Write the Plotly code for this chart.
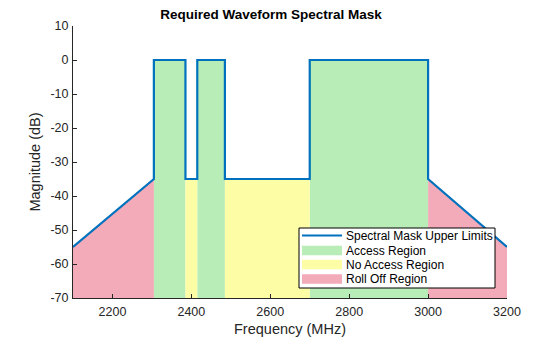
import plotly.graph_objects as go

# ---- data ----
mask_freq = [2100, 2305, 2305, 2385, 2385, 2415, 2415, 2485, 2485, 2700, 2700, 3000, 3000, 3200]
mask_db = [-55, -35, 0, 0, -35, -35, 0, 0, -35, -35, 0, 0, -35, -55]

access_bands = [(2305, 2385), (2415, 2485), (2700, 3000)]
access_level = 0
noaccess_bands = [(2385, 2415), (2485, 2700)]
noaccess_level = -35
rolloff_freq = [(2100, 2305), (3000, 3200)]
rolloff_db = [(-55, -35), (-35, -55)]
floor_db = -70

x_ticks = [2200, 2400, 2600, 2800, 3000, 3200]
y_ticks = [10, 0, -10, -20, -30, -40, -50, -60, -70]

legend_labels = ["Spectral Mask Upper Limits", "Access Region", "No Access Region", "Roll Off Region"]


def band_polys(bands, top):
    xs, ys = [], []
    for a, b in bands:
        xs += [a, a, b, b, a, None]
        ys += [floor_db, top, top, floor_db, floor_db, None]
    return xs, ys


ax_x, ax_y = band_polys(access_bands, access_level)
na_x, na_y = band_polys(noaccess_bands, noaccess_level)
ro_x, ro_y = [], []
for (a, b), (ya, yb) in zip(rolloff_freq, rolloff_db):
    ro_x += [a, a, b, b, a, None]
    ro_y += [floor_db, ya, yb, floor_db, floor_db, None]

GREEN = "#B8EDB8"
YELLOW = "#FDFDA6"
PINK = "#F3AAB9"
BLUE = "#0072BD"
FONT = "Liberation Sans, Arial, sans-serif"
TXT = "#262626"

W, H = 560, 337
L, R, T, B = 73, 507, 26, 298  # plot area in pixels


def px(x):
    return (x - L) / (R - L)


def py(y):
    return (B - y) / (B - T)


fig = go.Figure()
fig.add_trace(go.Scatter(x=ax_x, y=ax_y, fill="toself", fillcolor=GREEN, mode="lines",
                         line=dict(width=0, color=GREEN), name=legend_labels[1],
                         hoverinfo="skip", showlegend=False))
fig.add_trace(go.Scatter(x=na_x, y=na_y, fill="toself", fillcolor=YELLOW, mode="lines",
                         line=dict(width=0, color=YELLOW), name=legend_labels[2],
                         hoverinfo="skip", showlegend=False))
fig.add_trace(go.Scatter(x=ro_x, y=ro_y, fill="toself", fillcolor=PINK, mode="lines",
                         line=dict(width=0, color=PINK), name=legend_labels[3],
                         hoverinfo="skip", showlegend=False))
fig.add_trace(go.Scatter(x=mask_freq, y=mask_db, mode="lines",
                         line=dict(color=BLUE, width=2.2), name=legend_labels[0],
                         showlegend=False))

# ---- legend drawn as shapes + text (MATLAB-style compact legend) ----
shapes = [dict(type="rect", xref="paper", yref="paper", x0=px(299), x1=px(495),
               y0=py(288), y1=py(228), fillcolor="white", line=dict(color="black", width=1),
               layer="above")]
row_y = [235.5, 250.5, 264.5, 279]
shapes.append(dict(type="line", xref="paper", yref="paper", x0=px(302), x1=px(342),
                   y0=py(row_y[0]), y1=py(row_y[0]), line=dict(color=BLUE, width=2.2),
                   layer="above"))
for cy, col in zip(row_y[1:], [GREEN, YELLOW, PINK]):
    shapes.append(dict(type="rect", xref="paper", yref="paper", x0=px(302), x1=px(342),
                       y0=py(cy + 4.7), y1=py(cy - 4.7), fillcolor=col,
                       line=dict(width=0), layer="above"))
annotations = []
for cy, lab in zip(row_y, legend_labels):
    annotations.append(dict(text=lab, xref="paper", yref="paper", x=px(344), y=py(cy),
                            xanchor="left", yanchor="middle", showarrow=False,
                            font=dict(family=FONT, size=12, color="black")))

axis_common = dict(showline=True, linecolor=TXT, linewidth=1, ticks="inside", ticklen=4,
                   tickcolor=TXT, tickfont=dict(family=FONT, size=12.5, color=TXT),
                   showgrid=False, zeroline=False, mirror=False, automargin=False)

fig.update_layout(
    width=W, height=H,
    margin=dict(l=L, r=W - R, t=T, b=H - B, autoexpand=False),
    paper_bgcolor="white", plot_bgcolor="white",
    title=dict(text="Required Waveform Spectral Mask", x=271 / W, xref="container",
               xanchor="center", y=1 - 14 / H, yref="container", yanchor="middle",
               font=dict(family=FONT, size=13.5, color="black", weight="bold")),
    xaxis=dict(range=[2100, 3200], tickvals=x_ticks, ticktext=[str(v) for v in x_ticks],
               ticklabelstandoff=2,
               title=dict(text="Frequency (MHz)", font=dict(family=FONT, size=14.5, color=TXT),
                          standoff=9),
               **axis_common),
    yaxis=dict(range=[-70, 10], tickvals=y_ticks, ticktext=[str(v) for v in y_ticks],
               ticklabelstandoff=1,
               title=dict(text="Magnitude (dB)", font=dict(family=FONT, size=14.5, color=TXT),
                          standoff=6),
               **axis_common),
    shapes=shapes,
    annotations=annotations,
    showlegend=False,
)

fig.write_html("out.html")
